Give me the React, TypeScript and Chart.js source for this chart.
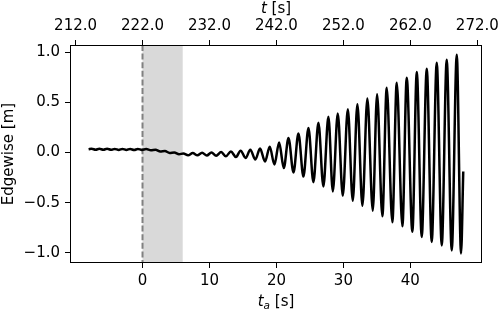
import React, { useEffect, useRef } from 'react';
import { Chart, registerables } from 'chart.js';

Chart.register(...registerables);

// ---- data ----
// Times (t_a, s) of the signal's turning points and its value there (m)
const sigT: number[] = [
  -8.05, -7.6, -7.0, -6.45, -5.85, -5.3, -4.7, -4.15, -3.55, -3.0, -2.4, -1.85, -1.25, -0.7,
  -0.1, 0.55, 1.25, 1.95, 2.65, 3.35, 4.05, 4.75, 5.45, 6.1, 6.8, 7.5, 8.2, 8.9, 9.6, 10.3,
  11.0, 11.75, 12.45, 13.2, 13.95, 14.65, 15.4, 16.1, 16.85, 17.55, 18.3, 19.0, 19.7, 20.4,
  21.1, 21.8, 22.55, 23.28, 24.03, 24.78, 25.52, 26.27, 27.01, 27.76, 28.42, 29.16, 29.91,
  30.66, 31.4, 32.09, 32.84, 33.58, 34.39, 35.03, 35.82, 36.47, 37.31, 37.97, 38.81, 39.46,
  40.3, 40.96, 41.7, 42.45, 43.19, 43.94, 44.69, 45.43, 46.18, 46.93, 47.57, 47.9,
];
const sigY: number[] = [
  0.032, 0.038, 0.027, 0.037, 0.027, 0.037, 0.027, 0.036, 0.026, 0.036, 0.026, 0.035, 0.025, 0.035,
  0.026, 0.034, 0.022, 0.027, 0.01, 0.014, -0.004, 0.0, -0.018, -0.01, -0.028, -0.005, -0.028, -0.003, -0.03, 0.0,
  -0.033, 0.004, -0.038, 0.01, -0.045, 0.018, -0.055, 0.028, -0.07, 0.04, -0.09, 0.058, -0.12, 0.1,
  -0.155, 0.145, -0.2, 0.19, -0.24, 0.245, -0.295, 0.295, -0.338, 0.355, -0.388, 0.388, -0.43,
  0.43, -0.48, 0.48, -0.53, 0.537, -0.58, 0.58, -0.635, 0.645, -0.695, 0.695, -0.735, 0.745,
  -0.79, 0.8, -0.84, 0.833, -0.89, 0.893, -0.925, 0.923, -0.975, 0.972, -1.005, -0.19,
];
const bottomTicks: number[] = [0, 10, 20, 30, 40];
const topTicks: number[] = [212, 222, 232, 242, 252, 262, 272];
const yTicks: number[] = [-1.0, -0.5, 0.0, 0.5, 1.0];
const timeOffset = 222; // t = t_a + 222
const xRange: number[] = [-10.83, 50.7];
const yRange: number[] = [-1.1, 1.07];
const markerT = 0;
const shadeRange: number[] = [0, 6];

const FONT = "'DejaVu Sans', sans-serif";
const SIZE = 15;

function fmt(v: number, d: number): string {
  const s = Math.abs(v).toFixed(d);
  return (v < -1e-9 ? '\u2212' : '') + s;
}

function drawParts(ctx: CanvasRenderingContext2D, parts: { t: string; f: string; dy: number }[], cx: number, y: number) {
  let total = 0;
  for (const p of parts) {
    ctx.font = p.f;
    total += ctx.measureText(p.t).width;
  }
  let x = cx - total / 2;
  ctx.textAlign = 'left';
  ctx.textBaseline = 'alphabetic';
  for (const p of parts) {
    ctx.font = p.f;
    ctx.fillText(p.t, x, y + p.dy);
    x += ctx.measureText(p.t).width;
  }
}

const decor = {
  id: 'decor',
  beforeDatasetsDraw(chart: any) {
    const { ctx, chartArea: a, scales } = chart;
    const xs = scales.x;
    ctx.save();
    const x0 = xs.getPixelForValue(shadeRange[0]);
    const x1 = xs.getPixelForValue(shadeRange[1]);
    ctx.fillStyle = '#d9d9d9';
    ctx.fillRect(x0, a.top, x1 - x0, a.bottom - a.top);
    const xm = xs.getPixelForValue(markerT);
    ctx.strokeStyle = '#808080';
    ctx.lineWidth = 2;
    ctx.setLineDash([6, 2.6]);
    ctx.beginPath();
    ctx.moveTo(xm, a.top);
    ctx.lineTo(xm, a.bottom);
    ctx.stroke();
    ctx.restore();
  },
  afterDraw(chart: any) {
    const { ctx, chartArea: a } = chart;
    ctx.save();
    ctx.strokeStyle = '#000';
    ctx.lineWidth = 1;
    ctx.setLineDash([]);
    const l = Math.round(a.left) + 0.5;
    const t = Math.round(a.top) + 0.5;
    const r = Math.round(a.right) - 0.5;
    const b = Math.round(a.bottom) - 0.5;
    ctx.strokeRect(l, t, r - l, b - t);
    ctx.fillStyle = '#000';
    const cx = (a.left + a.right) / 2;
    // bottom title: t_a [s]
    drawParts(ctx, [
      { t: 't', f: `italic ${SIZE}px ${FONT}`, dy: 0 },
      { t: 'a', f: `italic ${SIZE * 0.7}px ${FONT}`, dy: 3 },
      { t: ' [s]', f: `${SIZE}px ${FONT}`, dy: 0 },
    ], cx, 305.5);
    // top title: t [s]
    drawParts(ctx, [
      { t: 't', f: `italic ${SIZE}px ${FONT}`, dy: 0 },
      { t: ' [s]', f: `${SIZE}px ${FONT}`, dy: 0 },
    ], cx, 12.5);
    // y title
    ctx.translate(12.5, (a.top + a.bottom) / 2);
    ctx.rotate(-Math.PI / 2);
    ctx.font = `${SIZE}px ${FONT}`;
    ctx.textAlign = 'center';
    ctx.textBaseline = 'alphabetic';
    ctx.fillText('Edgewise [m]', 0, 0);
    ctx.restore();
  },
};

const tickFont = { family: FONT, size: SIZE };
const gridCfg = {
  display: true,
  drawOnChartArea: false,
  drawTicks: true,
  tickLength: 5,
  tickColor: '#000',
  tickWidth: 1,
};

export default function App() {
  const ref = useRef<HTMLCanvasElement | null>(null);
  useEffect(() => {
    document.body.style.margin = '0';
    const canvas = ref.current;
    if (!canvas) return;
    const points = sigT.map((t, i) => ({ x: t, y: sigY[i] }));
    const chart = new Chart(canvas, {
      type: 'line',
      data: {
        datasets: [
          {
            data: points,
            borderColor: '#000',
            borderWidth: 2.5,
            pointRadius: 0,
            fill: false,
            cubicInterpolationMode: 'monotone',
            tension: 0.4,
            xAxisID: 'x',
            yAxisID: 'y',
          },
        ],
      },
      options: {
        animation: false,
        responsive: false,
        devicePixelRatio: 1,
        events: [],
        layout: { padding: { left: 0, right: 18, top: 0, bottom: 0 } },
        plugins: { legend: { display: false }, tooltip: { enabled: false }, title: { display: false } },
        scales: {
          x: {
            type: 'linear',
            position: 'bottom',
            min: xRange[0],
            max: xRange[1],
            afterBuildTicks: (s: any) => { s.ticks = bottomTicks.map((v) => ({ value: v })); },
            afterFit: (s: any) => { s.height = 48; s.paddingLeft = 0; s.paddingRight = 0; },
            grid: gridCfg,
            border: { display: false },
            ticks: { padding: 4.5, color: '#000', font: tickFont, maxRotation: 0, autoSkip: false, callback: (v: any) => fmt(Number(v), 0) },
          },
          x2: {
            type: 'linear',
            position: 'top',
            min: xRange[0] + timeOffset,
            max: xRange[1] + timeOffset,
            afterBuildTicks: (s: any) => { s.ticks = topTicks.map((v) => ({ value: v })); },
            afterFit: (s: any) => { s.height = 45; s.paddingLeft = 0; s.paddingRight = 0; },
            grid: gridCfg,
            border: { display: false },
            ticks: { padding: 4.5, color: '#000', font: tickFont, maxRotation: 0, autoSkip: false, callback: (v: any) => fmt(Number(v), 1) },
          },
          y: {
            type: 'linear',
            position: 'left',
            min: yRange[0],
            max: yRange[1],
            afterBuildTicks: (s: any) => { s.ticks = yTicks.map((v) => ({ value: v })); },
            afterFit: (s: any) => { s.width = 70; s.paddingTop = 0; s.paddingBottom = 0; },
            grid: gridCfg,
            border: { display: false },
            ticks: { padding: 5, color: '#000', font: tickFont, autoSkip: false, callback: (v: any) => fmt(Number(v), 1) },
          },
        },
      },
      plugins: [decor],
    } as any);
    return () => chart.destroy();
  }, []);
  return (
    <div style={{ position: 'absolute', left: 0, top: 0, width: 500, height: 311 }}>
      <canvas ref={ref} width={500} height={311} style={{ width: 500, height: 311, display: 'block' }} />
    </div>
  );
}
